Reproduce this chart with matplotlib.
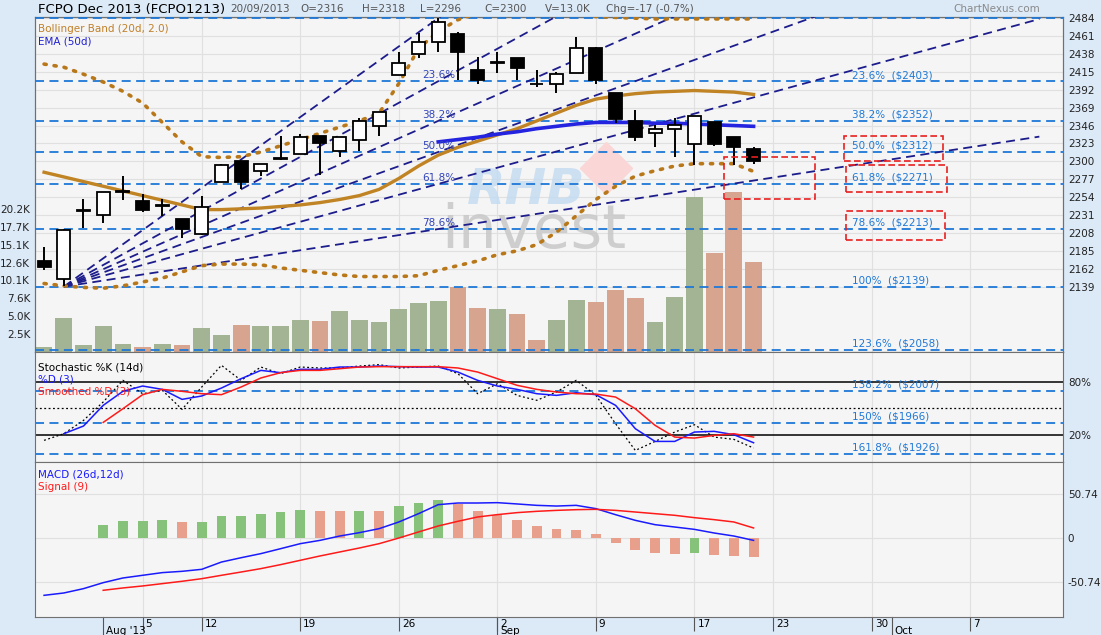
import numpy as np
import matplotlib
matplotlib.use("Agg")
from matplotlib import pyplot as plt
from matplotlib.patches import Rectangle

# daily OHLC, trading-day index 0..36
opens = [2172, 2149, 2236, 2231, 2262, 2249, 2244, 2226, 2207, 2273, 2301, 2287, 2304, 2310, 2332, 2313,
         2328, 2345, 2411, 2438, 2453, 2464, 2418, 2428, 2433, 2400, 2400, 2414, 2446, 2388, 2352, 2336,
         2341, 2322, 2350, 2331, 2316]
highs = [2190, 2213, 2251, 2261, 2281, 2258, 2251, 2226, 2255, 2297, 2301, 2297, 2332, 2335, 2332, 2331,
         2356, 2363, 2441, 2465, 2484, 2466, 2434, 2441, 2433, 2418, 2415, 2460, 2447, 2388, 2366, 2347,
         2356, 2358, 2350, 2331, 2318]
lows = [2160, 2140, 2214, 2221, 2250, 2235, 2230, 2202, 2205, 2273, 2265, 2281, 2302, 2310, 2282, 2306,
        2313, 2332, 2411, 2433, 2441, 2404, 2400, 2414, 2404, 2396, 2388, 2414, 2400, 2349, 2326, 2319,
        2306, 2295, 2320, 2295, 2296]
closes = [2164, 2212, 2237, 2261, 2261, 2237, 2242, 2213, 2241, 2295, 2273, 2297, 2303, 2331, 2324, 2331,
          2352, 2363, 2427, 2453, 2479, 2441, 2404, 2427, 2420, 2399, 2412, 2446, 2404, 2354, 2331, 2342,
          2347, 2358, 2322, 2318, 2300]
volume_k = [0.7, 4.8, 1.0, 3.7, 1.1, 0.7, 1.1, 1.0, 3.4, 2.4, 3.8, 3.7, 3.7, 4.5, 4.4, 5.8, 4.5, 4.2, 6.1,
            6.9, 7.2, 9.2, 6.2, 6.1, 5.4, 1.7, 4.5, 7.3, 7.1, 8.8, 7.6, 4.2, 7.8, 21.8, 14.0, 22.6, 12.7]

bb_mid = [2286, 2280, 2274, 2268, 2262, 2256, 2250, 2244, 2238, 2238, 2239, 2240, 2242, 2244, 2247, 2251,
          2256, 2264, 2278, 2294, 2308, 2318, 2326, 2334, 2342, 2352, 2362, 2372, 2380, 2384, 2387, 2389,
          2390, 2391, 2390, 2389, 2386]
bb_upper = [2425, 2421, 2412, 2402, 2390, 2375, 2350, 2325, 2306, 2305, 2306, 2312, 2320, 2328, 2336, 2344,
            2352, 2362, 2400, 2445, 2467, 2482, 2490, 2500, 2505, 2505, 2500, 2492, 2486, 2485, 2484, 2483,
            2483, 2483, 2483, 2483, 2483]
bb_lower = [2143, 2140, 2138, 2137, 2140, 2145, 2150, 2158, 2166, 2168, 2168, 2167, 2163, 2160, 2157, 2154,
            2152, 2152, 2152, 2153, 2160, 2166, 2172, 2180, 2185, 2193, 2209, 2230, 2251, 2268, 2281, 2288,
            2294, 2297, 2297, 2297, 2287]
ema_start = 20
ema50 = [2325, 2328, 2331, 2335, 2338, 2342, 2345, 2348, 2350, 2350, 2350, 2349, 2349, 2348, 2347, 2346, 2345]

stoch_k = [13.9, 21.4, 36.5, 57.3, 81.8, 66.7, 70.5, 49.0, 74.3, 98.8, 81.8, 96.9, 89.4, 96.9, 95.8, 95.8,
           98.0, 99.6, 95.8, 96.9, 98.0, 89.4, 66.7, 78.0, 64.8, 59.2, 68.6, 81.8, 64.8, 32.7, 2.5, 12.7,
           23.3, 31.6, 17.6, 15.0, 5.2]
stoch_d_yz = [245, 222, 160, 118, 102, 112, 142, 132, 108, 80, 55, 62, 52, 52, 45, 45, 42, 44, 45, 45, 60,
              85, 102, 112, 125, 130, 122, 128, 160, 230, 268, 268, 240, 238, 248, 272]
stoch_sd_yz = [211, 170, 128, 112, 118, 125, 128, 105, 78, 62, 55, 55, 50, 45, 44, 44, 44, 44, 48, 60, 80,
               100, 112, 120, 125, 126, 135, 170, 220, 255, 258, 250, 245, 255]
stoch_d = [round(113.9 - v * 0.3775, 1) for v in stoch_d_yz]     # starts at day 1
stoch_sd = [round(113.9 - v * 0.3775, 1) for v in stoch_sd_yz]   # starts at day 3

macd = [-66.5, -63.8, -58.8, -51.9, -46.5, -43.4, -40.3, -38.8, -36.5, -28.1, -23.1, -18.4, -12.7, -6.9,
        -3.1, 1.9, 5.8, 10.4, 18.1, 27.7, 38.1, 40.0, 40.0, 40.4, 38.9, 37.3, 36.5, 37.3, 33.5, 26.5, 20.0,
        15.0, 12.3, 9.6, 5.4, 1.9, -3.1]
signal = [-60.7, -58.0, -55.7, -53.0, -50.3, -47.3, -43.4, -39.6, -35.7, -31.1, -26.1, -21.1, -16.5, -11.9,
          -6.9, -0.4, 6.6, 13.5, 18.9, 23.9, 26.6, 28.9, 30.4, 31.5, 32.3, 32.7, 31.5, 29.6, 27.7, 25.8, 23.1,
          20.8, 18.1, 11.2]  # starts at day 3
hist = [15.0, 19.2, 19.2, 20.4, 18.1, 18.1, 25.0, 25.0, 27.3, 29.6, 31.9, 30.8, 30.8, 30.8, 30.8, 36.5,
        40.0, 43.5, 39.2, 30.8, 26.6, 20.4, 13.5, 10.0, 8.9, 4.6, -6.1, -14.2, -17.3, -18.8, -17.3, -19.6,
        -21.1, -22.3]  # starts at day 3
hist_dir = "uuuuduuuuuudduduuudddddddddddduddd"

fib_levels = [2484, 2403, 2352, 2312, 2271, 2213, 2139, 2058]
fib_names = ["0%", "23.6%", "38.2%", "50.0%", "61.8%", "78.6%", "100%", "123.6%"]
fib_ext_names = ["138.2%", "150%", "161.8%"]
fib_ext_prices = [2007, 1966, 1926]
fib_ext_stoch = [69.6, 33.4, -2.0]
fan_start = (1, 2139)
fan_pivot_day = 20

price_ticks = [2484, 2461, 2438, 2415, 2392, 2369, 2346, 2323, 2300, 2277, 2254, 2231, 2208, 2185, 2162, 2139]
vol_ticks = [2.52, 5.04, 7.56, 10.08, 12.6, 15.12, 17.64, 20.16]
vol_tick_labels = ["2.5K", "5.0K", "7.6K", "10.1K", "12.6K", "15.1K", "17.7K", "20.2K"]
day_ticks = [5, 8, 13, 18, 23, 28, 33, 37, 42, 47]
day_labels = ["5", "12", "19", "26", "2", "9", "17", "23", "30", "7"]
month_ticks = [3, 23, 43]
month_labels = ["Aug '13", "Sep", "Oct"]
boxes = [(34.5, 2252, 4.6, 53), (40.6, 2300, 5.0, 33), (40.7, 2260, 5.1, 35), (40.7, 2199, 5.0, 37)]

BG = "#dce9f7"
FACE = "#f5f5f5"
FIBC = "#1e78d8"
FANC = "#1c1c8c"
UP_V = "#a3b494"
DN_V = "#d6a48f"

days = np.arange(len(closes))
XL = (-0.46, 51.7)

fig = plt.figure(figsize=(11.01, 6.35), dpi=100, facecolor=BG)
L, W = 35 / 1101, 1028 / 1101
ax_vol = fig.add_axes([L, 1 - 352 / 635, W, 335 / 635])
ax = fig.add_axes([L, 1 - 352 / 635, W, 335 / 635], sharex=ax_vol)
ax_st = fig.add_axes([L, 1 - 462 / 635, W, 110 / 635], sharex=ax_vol)
ax_m = fig.add_axes([L, 1 - 617 / 635, W, 155 / 635], sharex=ax_vol)

for a in (ax_vol, ax_st, ax_m):
    a.set_facecolor(FACE)
ax.patch.set_visible(False)
for a in (ax_vol, ax, ax_st, ax_m):
    for s in a.spines.values():
        s.set_color("#707070")
    a.tick_params(labelsize=7.5, length=0, colors="#222222")
ax_vol.set_xlim(*XL)

# volume (behind)
vcol = [UP_V if i == 0 or closes[i] >= closes[i - 1] else DN_V for i in days]
ax_vol.bar(days, volume_k, width=0.85, color=vcol, zorder=2)
ax_vol.set_ylim(0, 47.2)
ax_vol.set_yticks(vol_ticks)
ax_vol.set_yticklabels(vol_tick_labels)
ax_vol.tick_params(axis="x", labelbottom=False)
for t in day_ticks:
    ax_vol.axvline(t, color="#e0e0e0", lw=0.8, zorder=1)
for p in price_ticks:
    ax_vol.axhline((p - 2055) / (2485.5 - 2055) * 47.2, color="#e0e0e0", lw=0.8, zorder=1)

# watermark
ax.text(0.478, 0.70, "RHB", transform=fig.transFigure, fontsize=36, fontweight="bold", style="italic",
        color="#c2dbf2", alpha=0.8, ha="center", va="center", zorder=0.5)
ax.plot([0.55], [0.735], marker="D", ms=26, color="#fbd6d6", transform=fig.transFigure, zorder=0.5)
ax.text(0.485, 0.635, "invest", transform=fig.transFigure, fontsize=44, color="#c8c8c8",
        alpha=0.85, ha="center", va="center", zorder=0.5)

# main price panel
ax.set_ylim(2055, 2485.5)
ax.yaxis.tick_right()
ax.set_yticks(price_ticks)
ax.tick_params(axis="x", labelbottom=False)

for lev, name in zip(fib_levels, fib_names):
    ax.axhline(lev, color=FIBC, lw=1.3, ls=(0, (5, 3)), zorder=3)
    if name in ("0%",):
        continue
    if lev > 2200:
        ax.text(19.2, lev + 4, name, fontsize=7.5, color="#3344bb", zorder=6)
    ax.text(41.0, lev + 4, f"{name}  (${lev})", fontsize=7.5, color=FIBC, zorder=6)

x0, y0 = fan_start
fx = np.array([x0, 50.5])
for lev in fib_levels[:6]:
    slope = (lev - y0) / (fan_pivot_day - x0)
    ax.plot(fx, y0 + slope * (fx - x0), color=FANC, lw=1.3, ls=(0, (5, 3)), zorder=3)

ax.plot(days, bb_upper, color="#b8781a", lw=2.6, ls=(0, (0.6, 2.2)), dash_capstyle="round", zorder=4)
ax.plot(days, bb_lower, color="#b8781a", lw=2.6, ls=(0, (0.6, 2.2)), dash_capstyle="round", zorder=4)
ax.plot(days, bb_mid, color="#c08424", lw=2.4, zorder=4)
ax.plot(np.arange(ema_start, ema_start + len(ema50)), ema50, color="#2424e0", lw=2.6, zorder=4)

o, h, l, c = map(np.array, (opens, highs, lows, closes))
ax.vlines(days, l, h, color="black", lw=1.4, zorder=5)
bot = np.minimum(o, c)
hgt = np.maximum(np.abs(c - o), 0.6)
ax.bar(days, hgt, bottom=bot, width=0.66, color=np.where(c >= o, "white", "black"),
       edgecolor="black", lw=1.3, zorder=6)

for bx, by, bw, bh in boxes:
    ax.add_patch(Rectangle((bx, by), bw, bh, fill=False, ec="#e82020", lw=1.2, ls=(0, (4, 2)), zorder=6))

ax.text(0.003, 0.955, "Bollinger Band (20d, 2.0)", transform=ax.transAxes, fontsize=7.5, color="#c0802a")
ax.text(0.003, 0.917, "EMA (50d)", transform=ax.transAxes, fontsize=7.5, color="#2020d0")

# stochastic panel
ax_st.set_ylim(-10.6, 113.9)
ax_st.yaxis.tick_right()
ax_st.set_yticks([80, 20])
ax_st.set_yticklabels(["80%", "20%"])
ax_st.tick_params(axis="x", labelbottom=False)
for t in day_ticks:
    ax_st.axvline(t, color="#e0e0e0", lw=0.8, zorder=1)
ax_st.axhline(80, color="black", lw=1.1)
ax_st.axhline(20, color="black", lw=1.1)
ax_st.axhline(50, color="black", lw=0.9, ls=(0, (1.5, 2)))
for v, name, pr in zip(fib_ext_stoch, fib_ext_names, fib_ext_prices):
    ax_st.axhline(v, color=FIBC, lw=1.3, ls=(0, (5, 3)))
    ax_st.text(41.0, v + 4, f"{name}  (${pr})", fontsize=7.5, color=FIBC)
ax_st.plot(days, stoch_k, color="black", lw=0.9, ls=(0, (1.5, 2)))
ax_st.plot(days[1:], stoch_d, color="#1a1aff", lw=1.1)
ax_st.plot(days[3:], stoch_sd, color="#ff1a1a", lw=1.1)
ax_st.text(0.003, 0.83, "Stochastic %K (14d)", transform=ax_st.transAxes, fontsize=7.5, color="black")
ax_st.text(0.003, 0.72, "%D (3)", transform=ax_st.transAxes, fontsize=7.5, color="#1a1aff")
ax_st.text(0.003, 0.61, "Smoothed %D (3)", transform=ax_st.transAxes, fontsize=7.5, color="#ff1a1a")

# MACD panel
ax_m.set_ylim(-91.5, 87.3)
ax_m.yaxis.tick_right()
ax_m.set_yticks([50.74, 0, -50.74])
ax_m.set_yticklabels(["50.74", "0", "-50.74"])
for t in day_ticks:
    ax_m.axvline(t, color="#e0e0e0", lw=0.8, zorder=1)
for v in (50.74, 0, -50.74):
    ax_m.axhline(v, color="#e0e0e0", lw=0.8, zorder=1)
hcol = ["#86c27a" if d == "u" else "#e8a08c" for d in hist_dir]
ax_m.bar(days[3:], hist, width=0.5, color=hcol, zorder=2)
ax_m.plot(days, macd, color="#1a1aff", lw=1.1, zorder=3)
ax_m.plot(days[3:], signal, color="#ff1a1a", lw=1.1, zorder=3)
ax_m.text(0.003, 0.90, "MACD (26d,12d)", transform=ax_m.transAxes, fontsize=7.5, color="#1a1aff")
ax_m.text(0.003, 0.82, "Signal (9)", transform=ax_m.transAxes, fontsize=7.5, color="#ff1a1a")

ax_m.set_xticks(day_ticks)
ax_m.set_xticklabels([])
ax_m.tick_params(axis="x", length=10, width=0.8, color="#555555", direction="out")
xt = ax_m.get_xaxis_transform()
for t, lab in zip(day_ticks, day_labels):
    ax_m.text(t + 0.15, -0.012, lab, transform=xt, fontsize=7.5, va="top")
for t, lab in zip(month_ticks, month_labels):
    ax_m.plot([t, t], [0, -0.12], color="#555555", lw=0.8, transform=xt, clip_on=False)
    ax_m.text(t + 0.15, -0.058, lab, transform=xt, fontsize=7.5, va="top")

# header
fig.text(38 / 1101, 1 - 9 / 635, "FCPO Dec 2013 (FCPO1213)", fontsize=9.5, va="center", color="black")
for xp, s in [(230, "20/09/2013"), (300, "O=2316"), (362, "H=2318"), (420, "L=2296"), (484, "C=2300"),
              (545, "V=13.0K"), (606, "Chg=-17 (-0.7%)")]:
    fig.text(xp / 1101, 1 - 9 / 635, s, fontsize=7.5, va="center", color="#555555")
fig.text(1040 / 1101, 1 - 9 / 635, "ChartNexus.com", fontsize=7.5, va="center", ha="right", color="#8a8a8a")

fig.savefig("out.png", dpi=100, facecolor=BG)
